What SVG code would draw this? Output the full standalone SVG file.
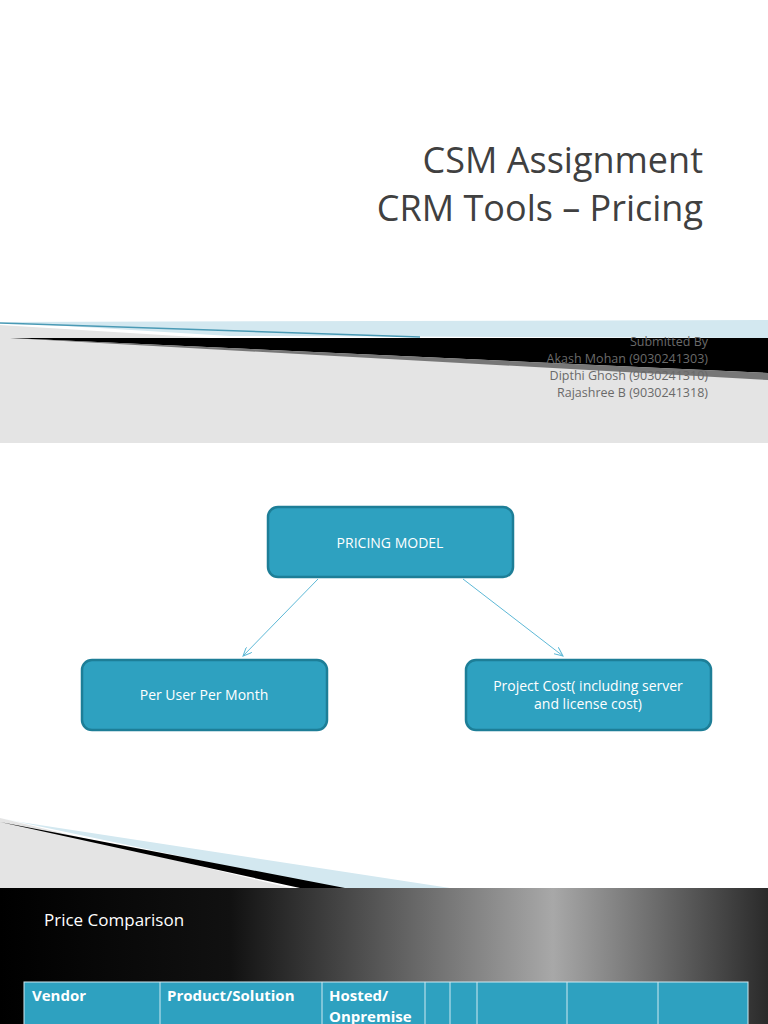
<svg xmlns="http://www.w3.org/2000/svg" width="768" height="1024" viewBox="0 0 768 1024">
<defs>
<style>
.t{font-family:"Open Sans","Liberation Sans",sans-serif}
.node{fill:#2ea1c0;stroke:#1d7e97;stroke-width:2.5}
.nt{font-family:"Open Sans","Liberation Sans",sans-serif;font-size:14px;fill:#fff;text-anchor:middle}
.sub{font-family:"Open Sans","Liberation Sans",sans-serif;font-size:12.5px;fill:#6a6a6a;text-anchor:end}
.th{font-family:"Open Sans","Liberation Sans",sans-serif;font-size:15px;fill:#fff;font-weight:bold}
</style>
<marker id="ah" markerWidth="10" markerHeight="8" refX="9" refY="4" orient="auto" markerUnits="userSpaceOnUse">
<path d="M0,0 L9,4 L0,8" fill="none" stroke="#5db8d6" stroke-width="1"/>
</marker>
<linearGradient id="dark" x1="0" y1="0" x2="1" y2="0">
<stop offset="0" stop-color="#000"/>
<stop offset="0.3" stop-color="#111"/>
<stop offset="0.72" stop-color="#a8a8a8"/>
<stop offset="1" stop-color="#2a2a2a"/>
</linearGradient>
</defs>
<rect width="768" height="1024" fill="#fff"/>
<!-- slide 1 -->
<text class="t" x="703" y="173" font-size="36" fill="#404040" text-anchor="end">CSM Assignment</text>
<text class="t" x="703" y="221" font-size="36" fill="#404040" text-anchor="end">CRM Tools – Pricing</text>
<polygon points="0,325 768,372 768,443 0,443" fill="#e4e4e4"/>
<polygon points="0,322 768,320 768,338 230,336" fill="#d3e8f0"/>
<polygon points="10,338 768,338 768,373" fill="#000"/>
<polygon points="10,338 768,373 768,380" fill="#777"/>
<line x1="0" y1="323" x2="420" y2="337" stroke="#4a9ab5" stroke-width="1.5"/>
<text class="sub" x="708" y="346">Submitted By</text>
<text class="sub" x="708" y="363">Akash Mohan (9030241303)</text>
<text class="sub" x="708" y="380">Dipthi Ghosh (9030241310)</text>
<text class="sub" x="708" y="397">Rajashree B (9030241318)</text>
<!-- slide 2 -->
<polygon points="0,818 290,888 0,888" fill="#e4e4e4"/>
<polygon points="0,818 330,888 450,888 20,822" fill="#d3e8f0"/>
<polygon points="0,822 300,888 345,888" fill="#000"/>
<g id="connectors">
<line x1="318" y1="579" x2="243" y2="656" stroke="#5db8d6" stroke-width="1" marker-end="url(#ah)"/>
<line x1="463" y1="579" x2="563" y2="656" stroke="#5db8d6" stroke-width="1" marker-end="url(#ah)"/>
</g>
<g id="pricing-model"><rect class="node" x="268" y="507" width="245" height="70" rx="10"/><text class="nt" x="390" y="548" font-size="13">PRICING MODEL</text></g>
<g id="per-user"><rect class="node" x="82" y="660" width="245" height="70" rx="10"/><text class="nt" x="204" y="700">Per User Per Month</text></g>
<g id="project-cost"><rect class="node" x="466" y="660" width="245" height="70" rx="10"/><text class="nt" x="588" y="691">Project Cost( including server</text><text class="nt" x="588" y="709">and license cost)</text></g>
<!-- slide 3 -->
<rect x="0" y="888" width="768" height="136" fill="url(#dark)"/>
<text class="t" x="44" y="926" font-size="17" fill="#fff">Price Comparison</text>
<g id="table">
<rect x="24" y="982" width="724" height="50" fill="#2ea1c0" stroke="#cfe9f1" stroke-width="1"/>
<g stroke="#cfe9f1" stroke-width="1">
<line x1="160" y1="982" x2="160" y2="1024"/><line x1="322" y1="982" x2="322" y2="1024"/>
<line x1="425" y1="982" x2="425" y2="1024"/><line x1="450" y1="982" x2="450" y2="1024"/>
<line x1="477" y1="982" x2="477" y2="1024"/><line x1="567" y1="982" x2="567" y2="1024"/>
<line x1="658" y1="982" x2="658" y2="1024"/>
</g>
<text class="th" x="32" y="1001">Vendor</text>
<text class="th" x="167" y="1001">Product/Solution</text>
<text class="th" x="329" y="1001">Hosted/</text>
<text class="th" x="329" y="1022">Onpremise</text>
</g>
</svg>
